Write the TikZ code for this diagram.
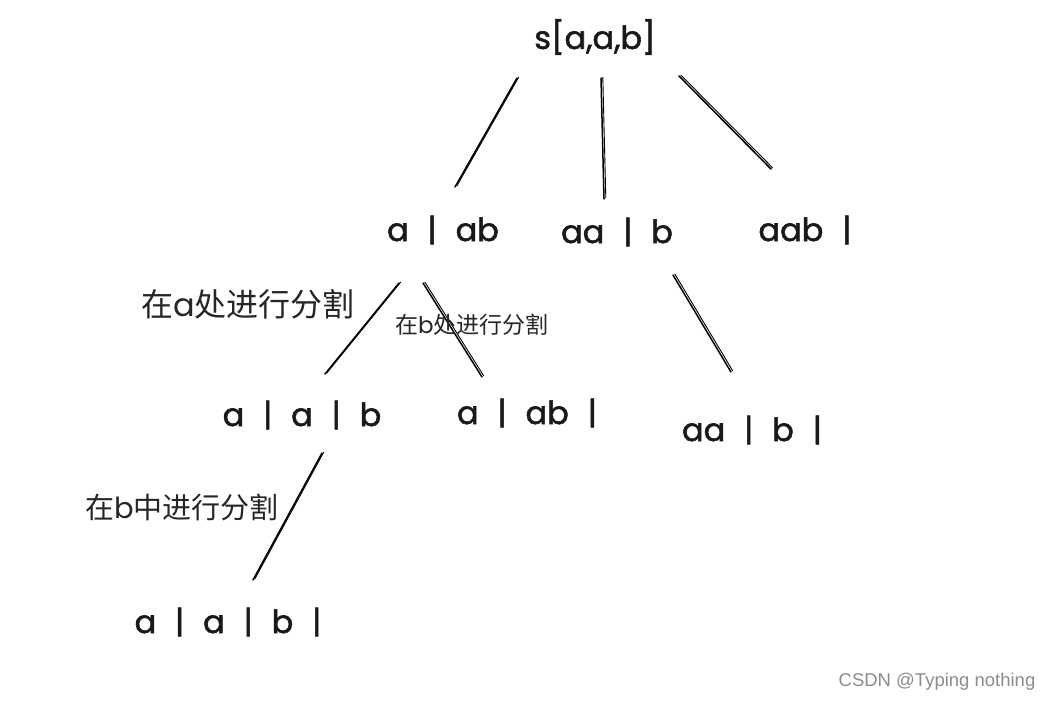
\documentclass[tikz,border=0pt]{standalone}
\usepackage{fontspec}
\usepackage{tikz}
\usetikzlibrary{positioning}
\usetikzlibrary{calc}
\setmainfont{Liberation Sans}
\newfontfamily\hand[WordSpace=2.2, FakeBold=1.6]{Poppins}
\newfontfamily\handthin{Poppins}
\newfontfamily\cjk{Noto Sans CJK SC}

\tikzset{
    sketch/.style={line width=1.5pt, line cap=round,
        preaction={draw, line width=0.9pt, transform canvas={shift={(1.8pt,1pt)}}}},
    tree/.style={inner sep=0pt, text=black!90, font=\hand\fontsize{32}{38}\selectfont},
    note/.style={inner sep=0pt, text=black!85, font=\cjk}
}

\begin{document}
\begin{tikzpicture}[x=1pt, y=-1pt]
    \useasboundingbox (0,0) rectangle (1051,701);

        % Definindo nos
        \foreach \pos/\name/\txt in {{(595,37)/root/{s[a,a,b]}}, {(443,230)/A/{a | ab}},
                                     {(617,232)/B/{aa | b}}, {(805,230)/C/{aab |}},
                                     {(302,415)/AA/{a | a | b}}, {(527,413)/AB/{a | ab |}},
                                     {(752,430)/BB/{aa | b |}}, {(228,622)/AAA/{a | a | b |}}}
            \node[tree] (\name) at \pos {\txt};

        % Definindo arestas
        \foreach \source/\s/\target/\t in {root/{(-78,41)}/A/{(12,-43)}, root/{(6,41)}/B/{(-13,-33)},
                                            root/{(84,39)}/C/{(-34,-61)}, A/{(-44,53)}/AA/{(23,-41)},
                                            A/{(-20,53)}/AB/{(-45,-36)}, B/{(56,43)}/BB/{(-21,-58)},
                                            AA/{(20,38)}/AAA/{(25,-42)}}
            \draw[sketch] ([shift=\s]\source.center) -- ([shift=\t]\target.center);

        % Rotulos
        \node[note, font=\cjk\fontsize{32}{38}\selectfont] (splitA) at (248,304) {在{\handthin a}处进行分割};
        \node[note, font=\cjk\fontsize{23}{28}\selectfont] (splitB) at (472,325) {在{\handthin b}处进行分割};
        \node[note, font=\cjk\fontsize{29}{34}\selectfont] (splitC) at (182,507) {在{\handthin b}中进行分割};
        \node[inner sep=0pt, text=black!45, font=\fontsize{18.5}{22}\selectfont] (mark) at (937,682) {CSDN @Typing nothing};

    \end{tikzpicture}
\end{document}
